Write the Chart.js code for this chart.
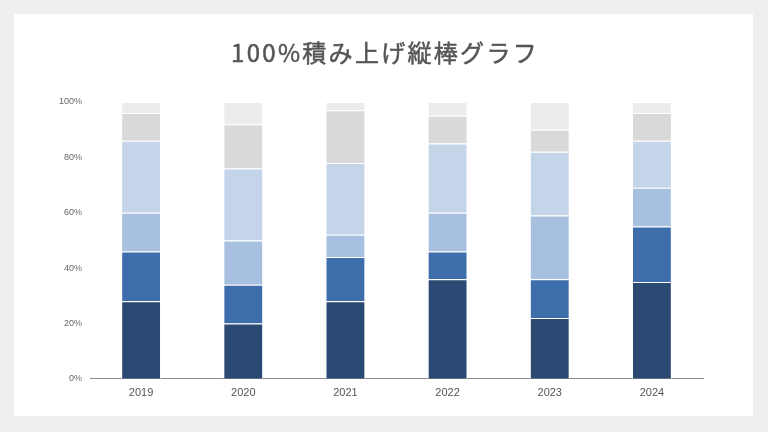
<!DOCTYPE html>
<html lang="ja">
<head>
<meta charset="utf-8">
<script src="https://cdn.jsdelivr.net/npm/chart.js@4"></script>
<style>
  html, body { margin: 0; padding: 0; background: #efefef; }
  body { width: 768px; height: 432px; position: relative; overflow: hidden; }
  .card { position: absolute; left: 14px; top: 14px; width: 739px; height: 402px; background: #fff; }
  .title {
    position: absolute; left: 0; top: 22px; width: 100%; text-align: center;
    font-family: 'Noto Sans CJK JP', sans-serif; font-size: 24px; font-weight: 400;
    line-height: 32px; letter-spacing: 2.3px; color: #555; padding-left: 3px; box-sizing: border-box;
    -webkit-text-stroke: 0.5px #555;
  }
  canvas { display: block; position: absolute; left: 0; top: 0; }
</style>
</head>
<body>
<div class="card">
  <canvas id="chart" width="739" height="402"></canvas>
  <div class="title">100%積み上げ縦棒グラフ</div>
</div>
<script>
const years = ['2019', '2020', '2021', '2022', '2023', '2024']
const series1 = [28, 20, 28, 36, 22, 35]
const series2 = [18, 14, 16, 10, 14, 20]
const series3 = [14, 16, 8, 14, 23, 14]
const series4 = [26, 26, 26, 25, 23, 17]
const series5 = [10, 16, 19, 10, 8, 10]
const series6 = [4, 8, 3, 5, 10, 4]
const seriesNames = ['系列1', '系列2', '系列3', '系列4', '系列5', '系列6']
const yTicks = [0, 20, 40, 60, 80, 100]

const colors = ['#2b4a73', '#3d6eab', '#a8c0df', '#c4d5ea', '#d9d9d9', '#ececec']
const allSeries = [series1, series2, series3, series4, series5, series6]

const ctx = document.getElementById('chart')
new Chart(ctx, {
  type: 'bar',
  data: {
    labels: years,
    datasets: allSeries.map((values, i) => ({
      label: seriesNames[i],
      data: values,
      backgroundColor: colors[i],
      borderColor: '#ffffff',
      borderWidth: 1,
      categoryPercentage: 1,
      barPercentage: 0.39,
    })),
  },
  options: {
    responsive: false,
    animation: false,
    layout: { padding: { left: 37, right: 50, top: 88, bottom: 16 } },
    scales: {
      x: {
        stacked: true,
        grid: { display: false },
        border: { color: '#8a8a8a', width: 1 },
        ticks: { color: '#555', font: { family: 'Liberation Sans', size: 11 }, padding: 0 },
      },
      y: {
        stacked: true,
        min: 0,
        max: 100,
        afterBuildTicks: (axis) => { axis.ticks = yTicks.map((v) => ({ value: v })) },
        grid: { display: false, drawTicks: false },
        border: { display: false },
        ticks: {
          color: '#666',
          font: { family: 'Liberation Sans', size: 9 },
          padding: 8,
          callback: (v) => v + '%',
        },
      },
    },
    plugins: {
      legend: { display: false },
      tooltip: { enabled: false },
    },
  },
})
</script>
</body>
</html>
